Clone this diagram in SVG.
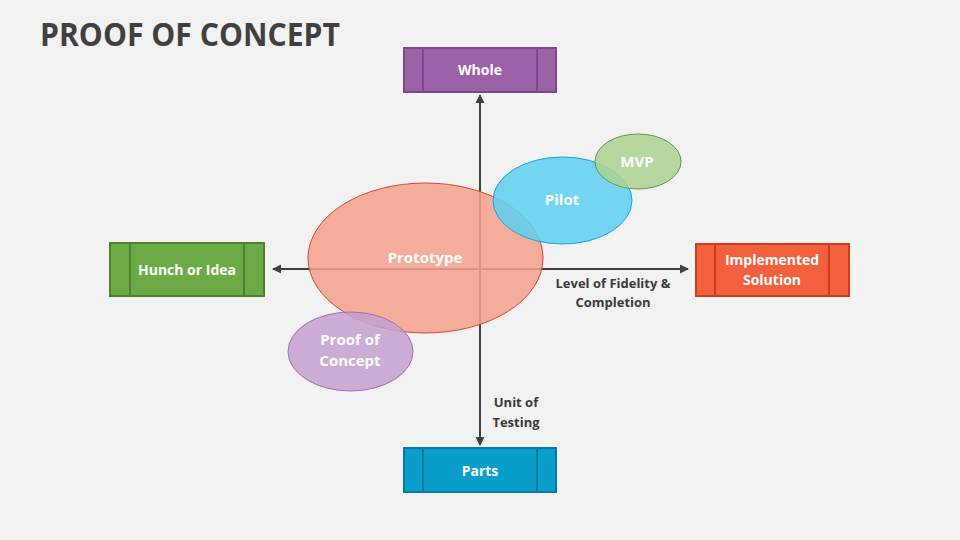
<svg xmlns="http://www.w3.org/2000/svg" width="960" height="540" viewBox="0 0 960 540">
<defs>
<marker id="arr" markerWidth="10" markerHeight="10" refX="8" refY="5" orient="auto" markerUnits="userSpaceOnUse">
<path d="M0,0.5 L9,5 L0,9.5 Z" fill="#404040"/>
</marker>
<style>
.t{font-family:"Open Sans","Liberation Sans",sans-serif;font-weight:bold;}
.bx{stroke-width:2;}
.bt{fill:#fff;font-size:14px;text-anchor:middle;}
.et{fill:#fff;font-size:15px;text-anchor:middle;}
.lb{fill:#3a3a3a;font-size:13px;text-anchor:middle;}
.ax{stroke:#404040;stroke-width:2;fill:none;}
</style>
</defs>
<rect width="960" height="540" fill="#F2F2F2"/>
<text class="t" x="40" y="46" font-size="32" fill="#404040" textLength="300" lengthAdjust="spacingAndGlyphs">PROOF OF CONCEPT</text>

<g id="connectors">
<line class="ax" x1="480" y1="269" x2="480" y2="95" marker-end="url(#arr)"/>
<line class="ax" x1="480" y1="269" x2="480" y2="445" marker-end="url(#arr)"/>
<line class="ax" x1="480" y1="269" x2="273" y2="269" marker-end="url(#arr)"/>
<line class="ax" x1="480" y1="269" x2="688" y2="269" marker-end="url(#arr)"/>
</g>

<g id="whole">
<rect class="bx" x="404" y="48" width="152" height="44" fill="#9C62A8" stroke="#7B4788"/>
<line x1="423" y1="48" x2="423" y2="92" stroke="#7B4788" stroke-width="2"/>
<line x1="537" y1="48" x2="537" y2="92" stroke="#7B4788" stroke-width="2"/>
<text class="t bt" x="480" y="75">Whole</text>
</g>

<g id="hunch">
<rect class="bx" x="110" y="243" width="154" height="53" fill="#6CAA45" stroke="#4E8030"/>
<line x1="130" y1="243" x2="130" y2="296" stroke="#4E8030" stroke-width="2"/>
<line x1="244" y1="243" x2="244" y2="296" stroke="#4E8030" stroke-width="2"/>
<text class="t bt" x="187" y="275">Hunch or Idea</text>
</g>

<g id="implemented">
<rect class="bx" x="696" y="244" width="153" height="52" fill="#F2603E" stroke="#D23A1A"/>
<line x1="715" y1="244" x2="715" y2="296" stroke="#D23A1A" stroke-width="2"/>
<line x1="829" y1="244" x2="829" y2="296" stroke="#D23A1A" stroke-width="2"/>
<text class="t bt" x="772" y="265">Implemented</text>
<text class="t bt" x="772" y="285">Solution</text>
</g>

<g id="parts">
<rect class="bx" x="404" y="448" width="152" height="44" fill="#0A9FCB" stroke="#0779A0"/>
<line x1="423" y1="448" x2="423" y2="492" stroke="#0779A0" stroke-width="2"/>
<line x1="537" y1="448" x2="537" y2="492" stroke="#0779A0" stroke-width="2"/>
<text class="t bt" x="480" y="476">Parts</text>
</g>

<g id="prototype">
<ellipse cx="425.5" cy="258" rx="117.5" ry="75" fill="#F4A08C" fill-opacity="0.85" stroke="#D9442B" stroke-width="1"/>
<text class="t et" x="425" y="263">Prototype</text>
</g>

<g id="pilot">
<ellipse cx="562.5" cy="200.5" rx="69.5" ry="43.5" fill="#5DD0F2" fill-opacity="0.85" stroke="#1CA3D2" stroke-width="1"/>
<text class="t et" x="562" y="205">Pilot</text>
</g>

<g id="mvp">
<ellipse cx="638" cy="161.5" rx="43" ry="27.5" fill="#ABD391" fill-opacity="0.85" stroke="#6A8F4A" stroke-width="1"/>
<text class="t et" x="637" y="167">MVP</text>
</g>

<g id="poc">
<ellipse cx="350.5" cy="351.5" rx="62.5" ry="39.5" fill="#C3A0D0" fill-opacity="0.85" stroke="#9E6FB0" stroke-width="1"/>
<text class="t et" x="350" y="345">Proof of</text>
<text class="t et" x="350" y="366">Concept</text>
</g>

<g id="labels">
<text class="t lb" x="613" y="288">Level of Fidelity &amp;</text>
<text class="t lb" x="613" y="307">Completion</text>
<text class="t lb" x="516" y="407">Unit of</text>
<text class="t lb" x="516" y="427">Testing</text>
</g>
</svg>
